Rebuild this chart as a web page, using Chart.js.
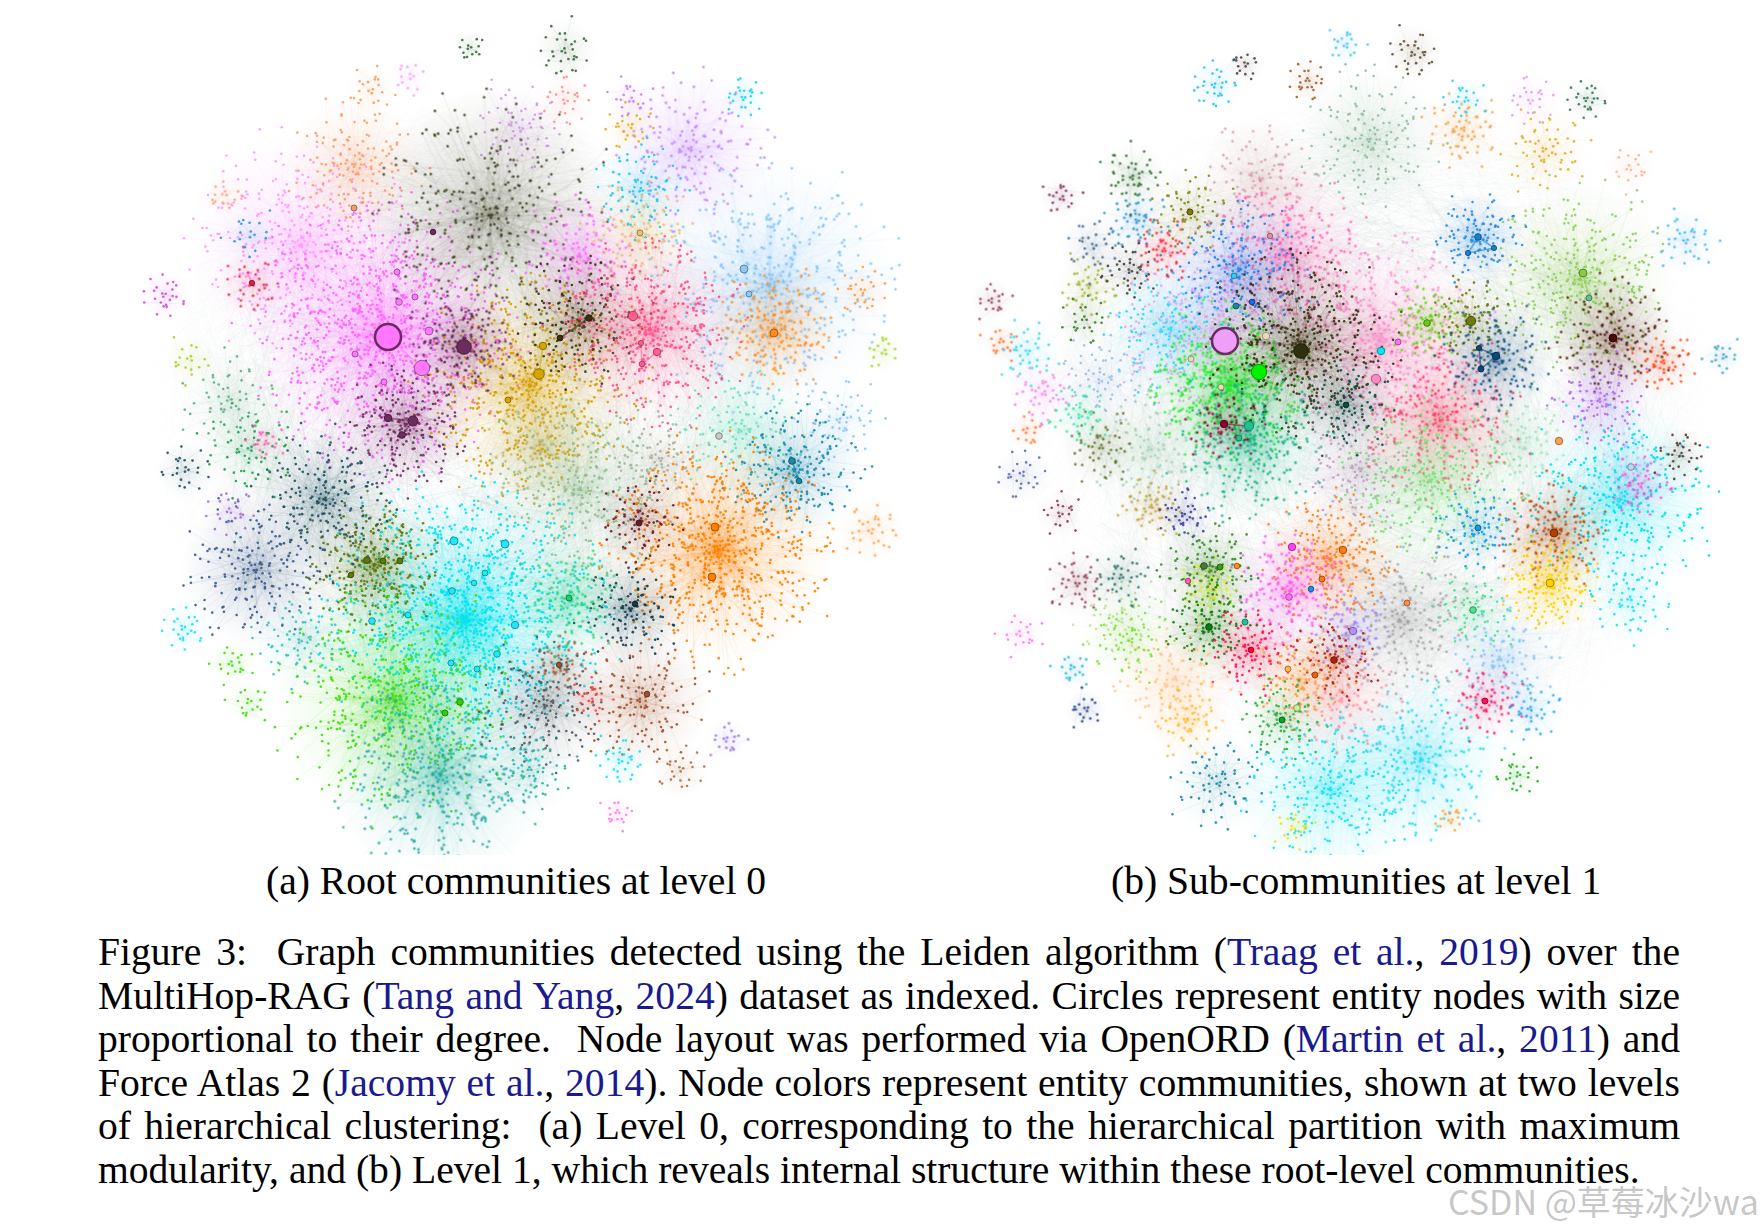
<!DOCTYPE html>
<html>
<head>
<meta charset="utf-8">
<script src="https://cdn.jsdelivr.net/npm/chart.js@4.4.1/dist/chart.umd.min.js"></script>
<style>
  body { margin: 0; background: #fff; width: 1760px; height: 1230px; position: relative; overflow: hidden;
         font-family: "Liberation Serif", "Times New Roman", serif; color: #000; }
  canvas { position: absolute; }
  #ca { left: 120px; top: 15px; }
  #cb { left: 960px; top: 15px; }
  .sub { position: absolute; top: 858px; font-size: 39.6px; line-height: 46px; white-space: nowrap; }
  #suba { left: 266px; }
  #subb { left: 1111px; }
  #cap { position: absolute; left: 98px; top: 931px; width: 1582px; font-size: 39.6px; line-height: 43.6px; }
  #cap div { text-align: justify; text-align-last: justify; word-spacing: -2px; }
  #cap div.last { text-align-last: left; word-spacing: 0; }
  #cap a { color: #1a1a8e; text-decoration: none; }
  #wm { position: absolute; left: 1448px; top: 1180px; font-family: "Noto Sans CJK SC", "Noto Sans", sans-serif;
        font-size: 34px; line-height: 42px; color: rgba(150,150,150,0.55); white-space: nowrap; }
</style>
</head>
<body>
<canvas id="ca" width="800" height="840"></canvas>
<canvas id="cb" width="800" height="840"></canvas>
<div class="sub" id="suba">(a) Root communities at level 0</div>
<div class="sub" id="subb">(b) Sub-communities at level 1</div>
<div id="cap">
  <div>Figure 3:&nbsp; Graph communities detected using the Leiden algorithm (<a>Traag et al.</a>, <a>2019</a>) over the</div>
  <div>MultiHop-RAG (<a>Tang and Yang</a>, <a>2024</a>) dataset as indexed. Circles represent entity nodes with size</div>
  <div>proportional to their degree.&nbsp; Node layout was performed via OpenORD (<a>Martin et al.</a>, <a>2011</a>) and</div>
  <div>Force Atlas 2 (<a>Jacomy et al.</a>, <a>2014</a>). Node colors represent entity communities, shown at two levels</div>
  <div>of hierarchical clustering:&nbsp; (a) Level 0, corresponding to the hierarchical partition with maximum</div>
  <div class="last">modularity, and (b) Level 1, which reveals internal structure within these root-level communities.</div>
</div>
<div id="wm">CSDN @草莓冰沙wa</div>
<script>
// ---- whole-graph extent (centre, radius) for the faint web of links ----
const aGraphCenter = [480, 420];
const aGraphRadius = 340;
const bGraphCenter = [1370, 432];
const bGraphRadius = 360;

// ---- (a) level 0: communities (layout position, spread, node count) ----
const aClusterX = [230, 660, 540, 300, 840, 530, 520,
                   300, 385, 355, 225, 410, 370, 252, 165, 190, 250,
                   490, 580, 640, 690, 640, 743, 565, 470, 630, 630,
                   565, 770, 775, 862, 883, 530, 580, 650, 405, 462,
                   740, 795, 580, 718, 870, 465, 375, 325, 185, 255,
                   230, 184, 250, 265, 395, 232, 250, 440, 640, 545,
                   640, 560, 630, 570, 620, 727, 618, 680, 590];
const aClusterY = [400, 460, 450, 640, 420, 770, 130,
                   245, 335, 165, 195, 77, 90, 283, 295, 360, 235,
                   215, 255, 232, 150, 190, 97, 50, 48, 127, 100,
                   100, 285, 330, 292, 352, 385, 320, 330, 425, 345,
                   430, 470, 490, 550, 530, 620, 565, 500, 470, 570,
                   510, 628, 450, 443, 700, 663, 702, 775, 520, 705,
                   700, 665, 610, 600, 760, 739, 813, 770, 700];
const aClusterSpread = [45, 45, 50, 45, 40, 40, 45,
                        100, 120, 60, 18, 18, 22, 30, 22, 22, 25,
                        110, 55, 50, 70, 45, 20, 28, 14, 25, 22,
                        25, 110, 55, 25, 18, 100, 60, 85, 60, 50,
                        60, 60, 90, 100, 30, 125, 60, 65, 25, 65,
                        25, 22, 45, 18, 105, 20, 20, 95, 40, 60,
                        60, 30, 45, 50, 25, 18, 16, 25, 20];
const aClusterNodes = [60, 90, 120, 80, 60, 70, 70,
                       350, 1000, 140, 15, 14, 20, 30, 25, 18, 18,
                       300, 120, 110, 150, 80, 25, 30, 14, 25, 20,
                       25, 420, 160, 25, 15, 500, 180, 420, 200, 150,
                       130, 200, 300, 650, 30, 1200, 280, 200, 25, 170,
                       25, 25, 60, 20, 500, 20, 18, 380, 80, 160,
                       140, 50, 110, 130, 30, 18, 18, 25, 20];

// ---- (a) hub entities (position, degree) and links between them ----
const aHubX = [388, 422, 429, 399, 415, 397, 355, 384, 464, 413, 388, 402, 433, 354,
               539, 543, 508, 589, 560, 633, 657, 642, 744, 749, 774, 640, 719, 792,
               799, 715, 712, 639, 569, 635, 647, 559, 454, 505, 515, 452, 485, 474,
               408, 372, 497, 451, 477, 367, 383, 400, 351, 460, 445, 252, 641];
const aHubY = [337, 368, 331, 302, 297, 272, 354, 382, 347, 421, 418, 435, 232, 208,
               374, 346, 400, 318, 338, 316, 352, 364, 269, 294, 333, 233, 436, 461,
               481, 527, 577, 523, 598, 604, 694, 665, 541, 544, 625, 591, 573, 583,
               615, 621, 654, 663, 669, 560, 561, 561, 575, 702, 713, 283, 343];
const aHubDegree = [218, 66, 12, 7, 5, 5, 5, 5, 58, 23, 10, 7, 4, 5,
                    26, 10, 5, 7, 5, 19, 10, 4, 12, 5, 12, 5, 7, 7,
                    4, 12, 12, 5, 5, 4, 4, 3, 12, 12, 10, 7, 5, 4,
                    5, 7, 7, 5, 5, 7, 5, 5, 4, 7, 5, 3, 3];
const aLinks = [[0, 1], [9, 10], [9, 11], [14, 15], [20, 21], [54, 21], [17, 18], [27, 28]];

// ---- (b) level 1: sub-communities ----
const bClusterX = [1150, 1360, 1340, 1100, 1520, 1500, 1260, 1120,
                   1380, 1370, 1580, 1440, 1430, 1400, 1620, 1330, 1420, 1285,
                   1215, 1240, 1170, 1230, 1300, 1250, 1224, 1346, 1163, 1137,
                   1133, 1190, 1088, 1061, 1130, 1215, 1308, 1245, 1345, 1413,
                   1587, 1478, 1471, 1427, 1495, 1613, 1663, 1723, 1685, 1630,
                   1545, 1463, 1465, 1530, 1600, 1631, 1640, 1680, 1554, 1550,
                   1478, 1330, 1290, 1210, 1210, 1209, 1251, 1353, 1334, 1300,
                   1175, 1282, 1218, 1473, 1485, 1530, 1517, 1450, 1152, 1184,
                   1022, 1120, 1077, 1020, 1073, 1086, 1100, 1060, 992, 1002,
                   1027, 1043, 1080, 1027, 1085, 1093, 1130, 1293, 1187, 1630];
const bClusterY = [450, 470, 700, 380, 440, 660, 180, 620,
                   340, 140, 280, 420, 480, 620, 500, 790, 760, 255,
                   335, 270, 330, 385, 345, 440, 424, 405, 250, 220,
                   177, 212, 287, 198, 270, 85, 81, 65, 45, 53,
                   99, 237, 321, 323, 360, 338, 363, 357, 240, 167,
                   150, 130, 100, 100, 400, 467, 486, 455, 533, 583,
                   528, 560, 590, 570, 590, 627, 650, 631, 660, 680,
                   680, 720, 783, 610, 701, 710, 775, 820, 506, 515,
                   475, 577, 583, 633, 668, 710, 447, 513, 300, 342,
                   353, 393, 415, 430, 320, 247, 640, 827, 720, 600];
const bClusterSpread = [55, 60, 55, 45, 50, 50, 55, 40,
                        95, 65, 85, 75, 85, 75, 85, 80, 75, 75,
                        85, 65, 60, 70, 85, 70, 35, 45, 30, 30,
                        30, 40, 30, 18, 28, 25, 20, 16, 18, 25,
                        20, 40, 40, 35, 50, 55, 30, 18, 30, 22,
                        40, 35, 20, 25, 45, 35, 30, 25, 50, 45,
                        40, 60, 55, 45, 30, 40, 40, 35, 40, 45,
                        55, 40, 45, 40, 35, 30, 22, 15, 30, 25,
                        25, 30, 30, 22, 18, 18, 35, 20, 18, 18,
                        30, 30, 30, 18, 25, 30, 40, 20, 35, 40];
const bClusterNodes = [100, 150, 120, 70, 100, 100, 100, 60,
                       480, 150, 330, 240, 300, 220, 320, 260, 210, 280,
                       450, 200, 140, 480, 450, 280, 60, 100, 50, 50,
                       45, 70, 45, 18, 40, 30, 25, 16, 18, 30,
                       25, 110, 90, 80, 140, 140, 50, 18, 35, 18,
                       60, 60, 20, 25, 100, 50, 40, 30, 140, 160,
                       90, 220, 160, 130, 50, 100, 100, 70, 90, 100,
                       100, 90, 70, 70, 60, 40, 25, 15, 60, 40,
                       25, 40, 40, 20, 18, 18, 50, 20, 18, 18,
                       35, 40, 40, 15, 25, 30, 60, 20, 50, 60];

// ---- (b) hub entities and links ----
const bHubX = [1225, 1301, 1259, 1266, 1191, 1221, 1224, 1249, 1236, 1252, 1234, 1190, 1270, 1478,
               1494, 1468, 1583, 1589, 1471, 1427, 1613, 1496, 1481, 1479, 1381, 1398, 1376, 1292,
               1343, 1322, 1311, 1289, 1204, 1220, 1237, 1188, 1209, 1245, 1353, 1334, 1288, 1315,
               1251, 1297, 1282, 1559, 1631, 1554, 1550, 1478, 1407, 1473, 1485, 1346, 1239];
const bHubY = [341, 351, 372, 336, 359, 387, 424, 426, 306, 302, 276, 212, 236, 237,
               248, 253, 273, 298, 321, 323, 338, 356, 369, 348, 351, 342, 379, 547,
               550, 579, 589, 597, 566, 567, 566, 581, 627, 622, 631, 660, 669, 675,
               650, 708, 720, 441, 467, 533, 583, 528, 603, 610, 701, 405, 438];
const bHubDegree = [218, 58, 66, 10, 5, 5, 10, 19, 5, 4, 4, 5, 4, 7,
                    3, 3, 12, 5, 19, 7, 12, 10, 5, 3, 10, 5, 19, 10,
                    10, 5, 4, 7, 7, 5, 4, 4, 7, 5, 10, 7, 5, 5,
                    4, 7, 5, 10, 7, 12, 12, 5, 5, 7, 5, 4, 5];
const bLinks = [[13, 14], [14, 15], [13, 15], [21, 22], [22, 23], [21, 23], [6, 7], [7, 54],
                [32, 33], [43, 44], [16, 17]];

// ---- colours (style only) ----
const aClusterColor = ['#60b080', '#b0b0a0', '#c0b060', '#40c0c0', '#90c8f0', '#30b0a0', '#d0a0e0',
  '#ff9cff', '#ff66ff', '#f5a070', '#f5a070', '#f0a0f0', '#f5a060', '#e0204a', '#d050d0', '#a8d030', '#3090e0',
  '#3a3a18', '#ff60ff', '#e8b870', '#c080ff', '#20c8f0', '#20d0f0', '#3a6a3a', '#3a6a3a', '#e0b020', '#c080ff',
  '#ff9090', '#7cc0f8', '#ff8c1a', '#ff9a40', '#a0d020', '#d4a000', '#3a3010', '#ff4f86', '#6b2d5c', '#5a2050',
  '#70e0c0', '#1a8aaa', '#90c090', '#ff8000', '#ff9a40', '#00e4f4', '#5a7a10', '#1e5060', '#1e5060', '#3a5a8a',
  '#a070d0', '#20e0f0', '#20a050', '#ff50b0', '#44dd11', '#44dd11', '#44dd11', '#20a8a0', '#6b1a2a', '#505860',
  '#a0522d', '#a0522d', '#0e3a4a', '#20d080', '#20e0f0', '#9070e0', '#ff80e0', '#b07040', '#ff4040'];
const aHubColor = ['#ff77ff', '#ff77ff', '#ff77ff', '#ff77ff', '#ff77ff', '#ff77ff', '#ff77ff', '#ff77ff',
  '#6b2d5c', '#6b2d5c', '#6b2d5c', '#6b2d5c', '#6b2d5c', '#f0a070', '#d4a600', '#d4a600', '#d4a600',
  '#3a3010', '#3a3010', '#ff5f8f', '#ff5f8f', '#ff5f8f', '#8ec8f8', '#8ec8f8', '#ff8c1a', '#e6c080',
  '#c8ccc4', '#1a8aaa', '#1a8aaa', '#ff8000', '#ff8000', '#6b1a2a', '#22cc77', '#0e3a4a', '#a0522d',
  '#a0522d', '#20e8f8', '#20e8f8', '#20e8f8', '#20e8f8', '#20e8f8', '#20e8f8', '#20e8f8', '#20e8f8',
  '#20e8f8', '#20e8f8', '#20e8f8', '#5a7a10', '#5a7a10', '#5a7a10', '#5a7a10', '#33cc11', '#33cc11',
  '#e0204a', '#ff5f8f'];
const bClusterColor = ['#a0d0b0', '#c0a0c0', '#ff90a0', '#a0c0e0', '#a0e0c0', '#80c0f0', '#d0a0a0', '#c0e0a0',
  '#ff90d0', '#90c0a0', '#90d060', '#ff3060', '#80e080', '#a0a0a0', '#00e0f0', '#20e0f0', '#20d8f0', '#ff60b0',
  '#f0a8f8', '#2a80e8', '#30d8f8', '#22ee22', '#3a3010', '#10b080', '#8a0030', '#0e4a40', '#ff2030', '#2a90d0',
  '#2a6a2a', '#8a8a20', '#a0b030', '#7a2a5a', '#404040', '#30c0e8', '#a06030', '#504040', '#40c0f0', '#605030',
  '#3a7a5a', '#2a8ae0', '#6a7a10', '#66cc11', '#0a4a7a', '#4a1000', '#ff4010', '#30a0c0', '#40b0f0', '#ffb090',
  '#e0b030', '#f0a040', '#30d0f0', '#e0a0f0', '#b070f0', '#a0c8f8', '#ff40d0', '#504030', '#b04000', '#ffd000',
  '#1a9ae0', '#ff8020', '#ff50f0', '#3a8a2a', '#e0f020', '#0a7a0a', '#ff1050', '#a080ff', '#b02010', '#ffa040',
  '#ffc080', '#30b040', '#1a8aa0', '#50e090', '#ff1060', '#20a0f0', '#30b030', '#f0a030', '#c0a040', '#4040a0',
  '#6070b0', '#1a6a5a', '#8a3a50', '#ff80f0', '#20b0e0', '#1a3a7a', '#5a6a20', '#8a3a50', '#8a3a5a', '#ff7030',
  '#30d0f0', '#f080f0', '#30e0a0', '#ff7030', '#3a7a2a', '#3a6080', '#80e040', '#f0e020', '#ffb020', '#20e0f0'];
const bHubColor = ['#eea0f8', '#2e3010', '#00f000', '#e8dcb8', '#e8dcb8', '#e8dcb8', '#8a0030', '#20c090',
  '#1a8a9a', '#1a6ae0', '#30d0f0', '#7a7a10', '#d890a0', '#1a80d0', '#1a80d0', '#1a80d0', '#88cc44',
  '#60c090', '#6a7a10', '#66cc11', '#4a0a00', '#0a4a7a', '#0a4a7a', '#0a4a7a', '#00e8f0', '#ff70f0',
  '#ff88c0', '#ff40f0', '#ff7a10', '#ff7a10', '#1a90e0', '#ff70f0', '#4a7a3a', '#3a9a1a', '#ff8a20',
  '#ff60b0', '#0a7a0a', '#20c0a0', '#b090ff', '#b02010', '#ffb050', '#f06010', '#ff0040', '#d0f090',
  '#10a030', '#ffa050', '#c0d8f8', '#b04000', '#ffd000', '#1a9ae0', '#ff8a40', '#50e090', '#ff1060',
  '#0e4a40', '#20c090'];

function rgb(c) { return [1, 3, 5].map(i => parseInt(c.slice(i, i + 2), 16)); }
function rgba(c, a) { const [r, g, b] = rgb(c); return `rgba(${r},${g},${b},${a})`; }
function shade(c, f) { const [r, g, b] = rgb(c); return `rgb(${Math.round(r * f)},${Math.round(g * f)},${Math.round(b * f)})`; }
function hubRadius(deg) { return 1.2 + 0.8 * Math.sqrt(deg); }

// fixed jitter tables for the speckle textures
const JIT_R = [0.62, 0.08, 0.91, 0.35, 0.77, 0.19, 0.54, 0.98, 0.27, 0.70, 0.03, 0.46, 0.85];
const JIT_B = [0.41, 0.87, 0.12, 0.66, 0.29, 0.95, 0.50, 0.03, 0.74, 0.21, 0.58];
const JIT_C = [0.15, 0.72, 0.38, 0.93, 0.05, 0.61, 0.84];

function spotPoints(c, spread, nodes, expo, turn) {
  const pts = [];
  for (let k = 0; k < nodes; k++) {
    const t = (k + 0.5) / nodes;
    const rho = spread * Math.pow(t, expo) * (0.7 + 0.6 * JIT_R[(k * 5) % 13]);
    const th = turn + k * 2.39996 + 1.1 * (JIT_B[k % 11] - 0.5) + 0.8 * (JIT_C[k % 7] - 0.5);
    pts.push([c + rho * Math.cos(th), c + rho * Math.sin(th)]);
  }
  return pts;
}

// speckled texture used as the point style of a community
function cloud(color, spread, nodes, turn) {
  const size = Math.ceil(spread * 2.7 + 8);
  const cv = document.createElement('canvas');
  cv.width = size; cv.height = size;
  const g = cv.getContext('2d');
  const c = size / 2;
  const haze = g.createRadialGradient(c, c, 0, c, c, spread * 1.15);
  const a0 = nodes >= 100 ? 0.2 : 0.1;
  haze.addColorStop(0, rgba(color, a0));
  haze.addColorStop(0.5, rgba(color, a0 * 0.45));
  haze.addColorStop(1, rgba(color, 0));
  g.fillStyle = haze;
  g.beginPath(); g.arc(c, c, spread * 1.15, 0, 2 * Math.PI); g.fill();
  const pts = spotPoints(c, spread, nodes, 0.7, turn);
  g.lineWidth = 0.6;
  g.strokeStyle = rgba(color, 0.13);
  g.beginPath();
  pts.forEach((p, k) => {
    if (k % 3 === 0) { g.moveTo(c, c); g.lineTo(p[0], p[1]); }
    else if (k > 6) { const q = pts[Math.floor(k / 4)]; g.moveTo(q[0], q[1]); g.lineTo(p[0], p[1]); }
  });
  g.stroke();
  g.fillStyle = rgba(color, 0.9);
  pts.forEach(p => { g.beginPath(); g.arc(p[0], p[1], 1.3, 0, 2 * Math.PI); g.fill(); });
  return cv;
}

// faint grey web of inter-community links spanning the graph, fading out at its rim
function web(radius) {
  const size = Math.ceil(radius * 2 + 10);
  const cv = document.createElement('canvas');
  cv.width = size; cv.height = size;
  const g = cv.getContext('2d');
  const c = size / 2;
  const n = 1400;
  const pts = spotPoints(c, radius, n, 0.6, 0);
  g.lineWidth = 0.6;
  g.strokeStyle = 'rgba(120,130,130,0.08)';
  g.beginPath();
  for (let k = 0; k < n; k++) {
    [21, 34, 55].forEach(d => { if (k + d < n) { g.moveTo(pts[k][0], pts[k][1]); g.lineTo(pts[k + d][0], pts[k + d][1]); } });
  }
  g.stroke();
  g.strokeStyle = 'rgba(120,130,130,0.05)';
  g.beginPath();
  for (let k = 0; k < n; k += 6) {
    const j = (k * 37 + 101) % n;
    g.moveTo(pts[k][0], pts[k][1]); g.lineTo(pts[j][0], pts[j][1]);
  }
  g.stroke();
  const fade = g.createRadialGradient(c, c, 0, c, c, radius);
  fade.addColorStop(0, 'rgba(0,0,0,1)');
  fade.addColorStop(0.6, 'rgba(0,0,0,0.8)');
  fade.addColorStop(1, 'rgba(0,0,0,0)');
  g.globalCompositeOperation = 'destination-in';
  g.fillStyle = fade;
  g.fillRect(0, 0, size, size);
  return cv;
}

function panel(id, xmin, xmax, center, radius, cx, cy, spread, nodes, ccol, hx, hy, hdeg, hcol, links) {
  const clouds = cx.map((x, i) => cloud(ccol[i], spread[i], nodes[i], i * 1.3));
  const datasets = [{
    type: 'scatter', order: 0, clip: false,
    data: hx.map((x, i) => ({ x: x, y: hy[i] })),
    pointRadius: hdeg.map(hubRadius),
    pointBackgroundColor: hcol,
    pointBorderColor: hcol.map((c, i) => hdeg[i] > 100 ? '#6a2c60' : shade(c, 0.65)),
    pointBorderWidth: hdeg.map(d => d > 100 ? 2.5 : 1)
  }];
  links.forEach(([i, j]) => datasets.push({
    type: 'line', order: 1, clip: false,
    data: [{ x: hx[i], y: hy[i] }, { x: hx[j], y: hy[j] }],
    borderColor: rgba(hcol[i], 0.6), borderWidth: 1.6, pointRadius: 0
  }));
  datasets.push({
    type: 'scatter', order: 2, clip: false,
    data: cx.map((x, i) => ({ x: x, y: cy[i] })),
    pointStyle: clouds, pointRadius: spread
  });
  datasets.push({
    type: 'scatter', order: 3, clip: false,
    data: [{ x: center[0], y: center[1] }],
    pointStyle: web(radius), pointRadius: radius
  });
  return new Chart(document.getElementById(id), {
    type: 'scatter',
    data: { datasets: datasets },
    options: {
      responsive: false, animation: false, events: [],
      layout: { padding: 0, autoPadding: false },
      plugins: { legend: { display: false }, tooltip: { enabled: false } },
      scales: {
        x: { type: 'linear', min: xmin, max: xmax, display: false },
        y: { type: 'linear', min: 15, max: 855, reverse: true, display: false }
      }
    }
  });
}

panel('ca', 120, 920, aGraphCenter, aGraphRadius, aClusterX, aClusterY, aClusterSpread, aClusterNodes, aClusterColor,
      aHubX, aHubY, aHubDegree, aHubColor, aLinks);
panel('cb', 960, 1760, bGraphCenter, bGraphRadius, bClusterX, bClusterY, bClusterSpread, bClusterNodes, bClusterColor,
      bHubX, bHubY, bHubDegree, bHubColor, bLinks);
</script>
</body>
</html>
